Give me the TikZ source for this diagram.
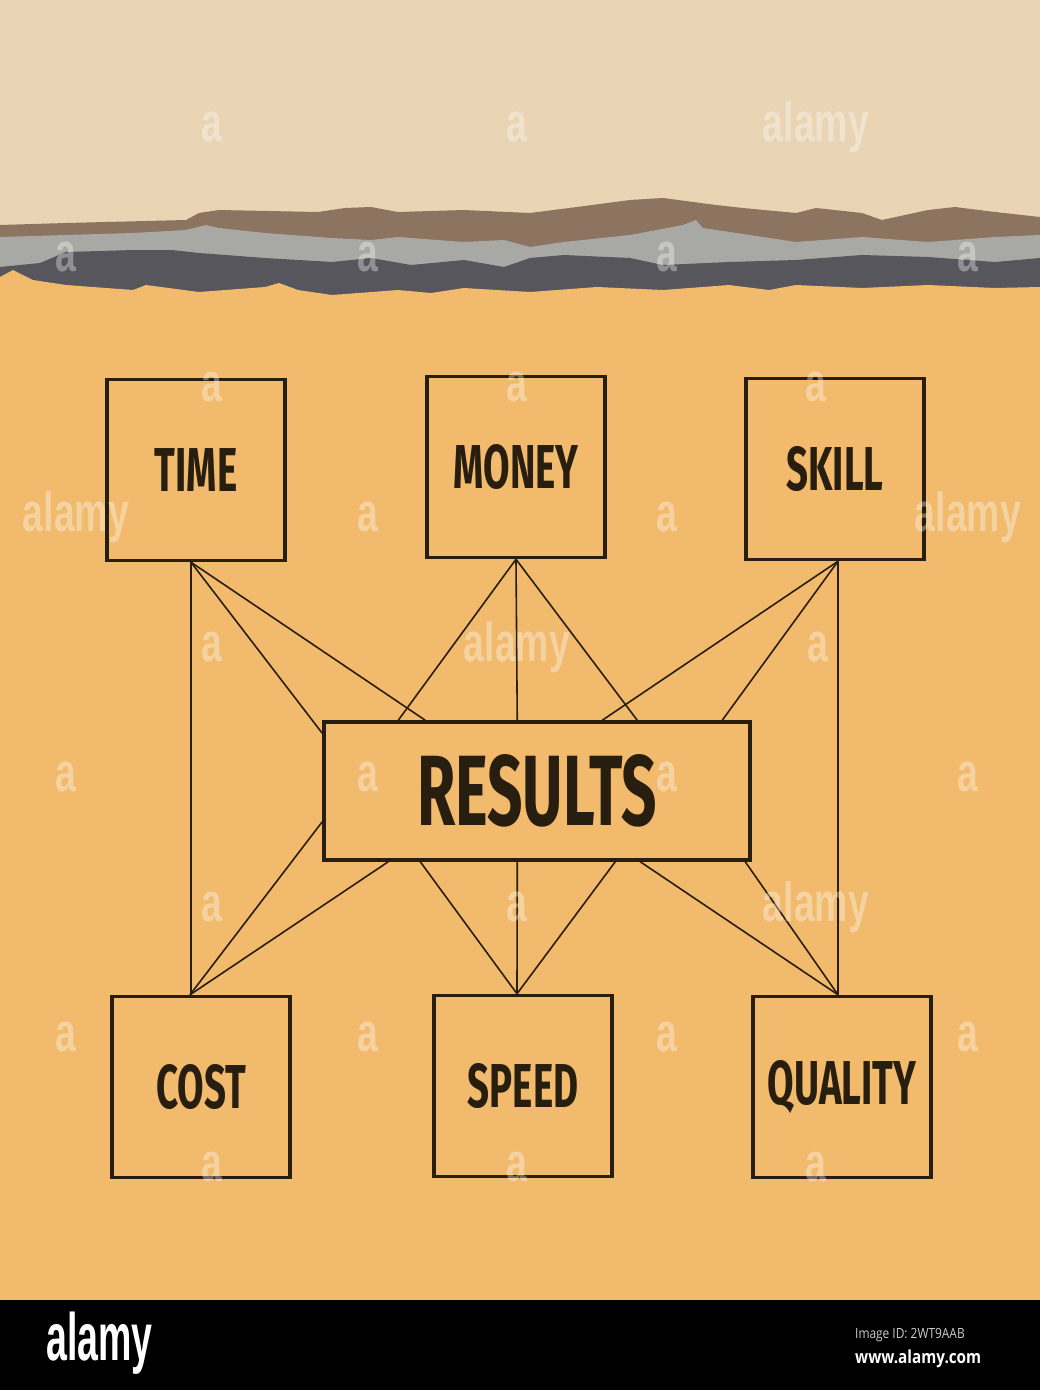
\documentclass[tikz,border=0pt]{standalone}
\usepackage{fontspec}
\setmainfont{Fira Sans}
\newfontfamily\wmfont{Liberation Sans}
\newfontfamily\idfont{Open Sans}
\usetikzlibrary{calc}

\definecolor{paperTop}{RGB}{233,213,180}
\definecolor{paperBrown}{RGB}{140,116,96}
\definecolor{paperGrey}{RGB}{168,168,164}
\definecolor{paperDark}{RGB}{86,86,92}
\definecolor{paperOrange}{RGB}{241,186,108}
\definecolor{ink}{RGB}{40,30,16}

\newcommand{\hand}[1]{\scalebox{0.62}[1]{#1}}

\tikzset{
	box/.style={draw=ink, line width=3.5pt, minimum width=178pt, minimum height=181pt, text=ink, font=\fontsize{62}{64}\selectfont\bfseries},
	bigbox/.style={box, minimum width=426pt, minimum height=138pt, font=\fontsize{100}{102}\selectfont\bfseries},
	link/.style={draw=ink, line width=1.6pt},
	wm/.style={text=white, opacity=0.35, anchor=base, inner sep=0pt, font=\wmfont\fontsize{55}{55}\selectfont\bfseries}
}

\begin{document}
\begin{tikzpicture}[x=1pt, y=-1pt]
			%%%%% START %%%%%
			\useasboundingbox (0, 0) rectangle (1040, 1390);
			
			% torn paper layers
			\fill[paperTop] (0, 0) rectangle (1040, 1300);
			\fill[paperBrown] (0,225) -- (66,223) -- (186,220) -- (199,213) -- (219,210) -- (318,212) -- (345,208) -- (371,207) -- (398,212) -- (464,210) -- (530,213) -- (577,207) -- (630,200) -- (663,198) -- (716,205) -- (743,208) -- (796,213) -- (816,208) -- (862,213) -- (882,220) -- (928,210) -- (955,207) -- (995,212) -- (1040,217) -- (1040,330) -- (0,330) -- cycle;
			\fill[paperGrey] (0,237) -- (66,235) -- (133,233) -- (186,230) -- (206,225) -- (219,228) -- (265,233) -- (332,238) -- (371,240) -- (398,237) -- (464,242) -- (504,240) -- (530,247) -- (564,242) -- (630,235) -- (683,225) -- (696,220) -- (703,228) -- (763,237) -- (796,242) -- (862,237) -- (928,242) -- (995,237) -- (1040,235) -- (1040,330) -- (0,330) -- cycle;
			\fill[paperDark] (0,267) -- (40,263) -- (66,252) -- (133,250) -- (172,250) -- (199,253) -- (265,258) -- (332,262) -- (371,258) -- (411,265) -- (464,260) -- (504,267) -- (530,258) -- (564,255) -- (630,258) -- (663,265) -- (729,262) -- (796,260) -- (862,255) -- (928,257) -- (995,262) -- (1040,258) -- (1040,330) -- (0,330) -- cycle;
			\fill[paperOrange] (0,277) -- (13,270) -- (33,280) -- (66,285) -- (133,290) -- (146,285) -- (199,292) -- (265,287) -- (279,283) -- (298,290) -- (332,295) -- (398,290) -- (431,293) -- (464,288) -- (530,292) -- (597,287) -- (663,290) -- (729,285) -- (769,290) -- (796,285) -- (862,288) -- (928,285) -- (995,288) -- (1040,287) -- (1040,1300) -- (0,1300) -- cycle;
			
			% boxes
			\node[box] (time) at (196, 470) {\hand{TIME}};
			\node[box] (money) at (516, 467) {\hand{MONEY}};
			\node[box] (skill) at (835, 469) {\hand{SKILL}};
			
			\node[bigbox] (results) at (537, 791) {\hand{RESULTS}};
			
			\node[box] (cost) at (201, 1087) {\hand{COST}};
			\node[box] (speed) at (523, 1086) {\hand{SPEED}};
			\node[box] (quality) at (842, 1087) {\hand{QUALITY}};
			
			% feet of the boxes
			\coordinate (timeFoot) at ([xshift=-5pt]time.south);
			\coordinate (moneyFoot) at (money.south);
			\coordinate (skillFoot) at ([xshift=3pt]skill.south);
			\coordinate (costHead) at ([xshift=-11pt]cost.north);
			\coordinate (speedHead) at ([xshift=-6pt]speed.north);
			\coordinate (qualityHead) at ([xshift=-4pt]quality.north);
			
			% links
			\draw[link] (timeFoot) -- (timeFoot |- costHead);
			\draw[link] (timeFoot) -- ($(results.north west)+(0,13)$);
			\draw[link] (timeFoot) -- ($(results.north west)+(103,0)$);
			
			\draw[link] (moneyFoot) -- ($(results.north west)+(76,0)$);
			\draw[link] (moneyFoot) -- ($(results.north west)+(195,0)$);
			\draw[link] (moneyFoot) -- ($(results.north west)+(315,0)$);
			
			\draw[link] (skillFoot) -- ($(results.north west)+(280,0)$);
			\draw[link] (skillFoot) -- ($(results.north west)+(400,0)$);
			\draw[link] (skillFoot) -- (skillFoot |- qualityHead);
			
			\draw[link] (costHead) -- ($(results.south west)+(0,-40)$);
			\draw[link] (costHead) -- ($(results.south west)+(66,0)$);
			
			\draw[link] (speedHead) -- ($(results.south west)+(98,0)$);
			\draw[link] (speedHead) -- ($(results.south west)+(195,0)$);
			\draw[link] (speedHead) -- ($(results.south west)+(293,0)$);
			
			\draw[link] (qualityHead) -- ($(results.south west)+(318,0)$);
			\draw[link] (qualityHead) -- ($(results.south west)+(423,0)$);
			
			% watermark
			\foreach \wy in {257, 777, 1037}
				\foreach \wx in {66, 368, 667, 968}
					\node[wm] at (\wx, {\wy+14}) {\scalebox{0.68}[1]{a}};
			\foreach \wy in {387, 1167}
				\foreach \wx in {212, 517, 816}
					\node[wm] at (\wx, {\wy+14}) {\scalebox{0.68}[1]{a}};
			\node[wm] at (76, 531) {\scalebox{0.68}[1]{alamy}};
			\node[wm] at (368, 531) {\scalebox{0.68}[1]{a}};
			\node[wm] at (667, 531) {\scalebox{0.68}[1]{a}};
			\node[wm] at (968, 531) {\scalebox{0.68}[1]{alamy}};
			\foreach \wy in {127, 907} {
				\node[wm] at (212, {\wy+14}) {\scalebox{0.68}[1]{a}};
				\node[wm] at (517, {\wy+14}) {\scalebox{0.68}[1]{a}};
				\node[wm] at (816, {\wy+14}) {\scalebox{0.68}[1]{alamy}};
			}
			\node[wm] at (212, 661) {\scalebox{0.68}[1]{a}};
			\node[wm] at (517, 661) {\scalebox{0.68}[1]{alamy}};
			\node[wm] at (818, 661) {\scalebox{0.68}[1]{a}};
			
			% stock bar
			\fill[black] (0, 1300) rectangle (1040, 1390);
			\node[anchor=base west, inner sep=0pt, text=white, font=\wmfont\fontsize{67}{67}\selectfont\bfseries] (logo) at (46, 1360) {\scalebox{0.56}[1]{alamy}};
			\node[anchor=base west, inner sep=0pt, text=white!80!black, font=\idfont\fontsize{14}{14}\selectfont] (imgid) at (855, 1338) {\scalebox{0.85}[1]{Image ID: 2WT9AAB}};
			\node[anchor=base west, inner sep=0pt, text=white, font=\idfont\fontsize{18}{18}\selectfont\bfseries] (site) at (855, 1363) {\scalebox{0.85}[1]{www.alamy.com}};
			
			%%%%% END %%%%%
\end{tikzpicture}
\end{document}
